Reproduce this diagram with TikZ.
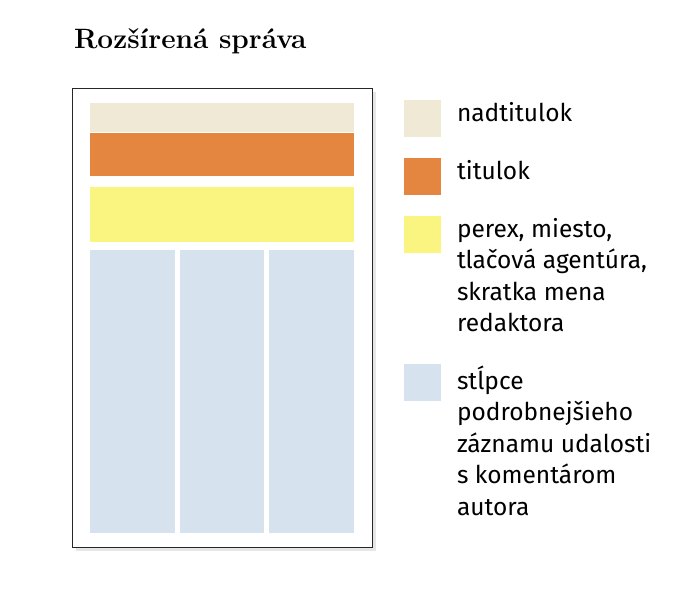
\documentclass[tikz,border=0pt]{standalone}
\usepackage{fontspec}
\newfontfamily\legendfont{Fira Sans}
\usetikzlibrary{positioning,shadows}
\definecolor{nadbeige}{RGB}{239,233,214}
\definecolor{titorange}{RGB}{228,133,64}
\definecolor{perexyellow}{RGB}{249,245,128}
\definecolor{colblue}{RGB}{214,226,237}
\begin{document}
\begin{tikzpicture}[x=1pt,y=-1pt]
        \tikzstyle{every node}=[inner sep=0pt, outer sep=0pt]
        \tikzstyle{band}=[minimum width=264pt]
        \tikzstyle{column}=[fill=colblue, minimum width=84.7pt, minimum height=283pt]
        \tikzstyle{key}=[minimum size=37pt]
        \tikzstyle{legend}=[font=\legendfont\fontsize{24.5}{31.5}\selectfont, align=left, anchor=north west]
        \useasboundingbox (0,0) rectangle (695,613);
        \node[anchor=base west, font=\bfseries\fontsize{28}{32}\selectfont] (title) at (74,48) {Rozšírená správa};
        % page
        \node[draw=black!85, line width=0.8pt, fill=white, minimum width=300pt, minimum height=459pt,
              drop shadow={shadow xshift=4pt, shadow yshift=-4pt, opacity=.2}] (page) at (222,317.5) {};
        \node[band, fill=nadbeige, minimum height=29pt] (nad) at (222,117.5) {};
        \node[band, fill=titorange, minimum height=43pt] (tit) at (222,154.5) {};
        \node[band, fill=perexyellow, minimum height=55pt] (perex) at (222,214.5) {};
        \foreach \c/\x in {1/132.3, 2/222, 3/311.7}
            \node[column] (col\c) at (\x,391.5) {};
        % legend
        \node[key, fill=nadbeige] (k1) at (422.5,118.5) {};
        \node[key, fill=titorange] (k2) at (422.5,176.5) {};
        \node[key, fill=perexyellow] (k3) at (422.5,234.5) {};
        \node[key, fill=colblue] (k4) at (422.5,382) {};
        \node[legend, right=16pt of k1.north east, anchor=north west, yshift=-2pt] (l1) {nadtitulok};
        \node[legend, right=16pt of k2.north east, anchor=north west, yshift=-2pt] (l2) {titulok};
        \node[legend, right=16pt of k3.north east, anchor=north west, yshift=-2pt] (l3) {perex, miesto,\\tlačová agentúra,\\skratka mena\\redaktora};
        \node[legend, right=16pt of k4.north east, anchor=north west, yshift=-2pt] (l4) {stĺpce\\podrobnejšieho\\záznamu udalosti\\s komentárom\\autora};
\end{tikzpicture}
\end{document}
